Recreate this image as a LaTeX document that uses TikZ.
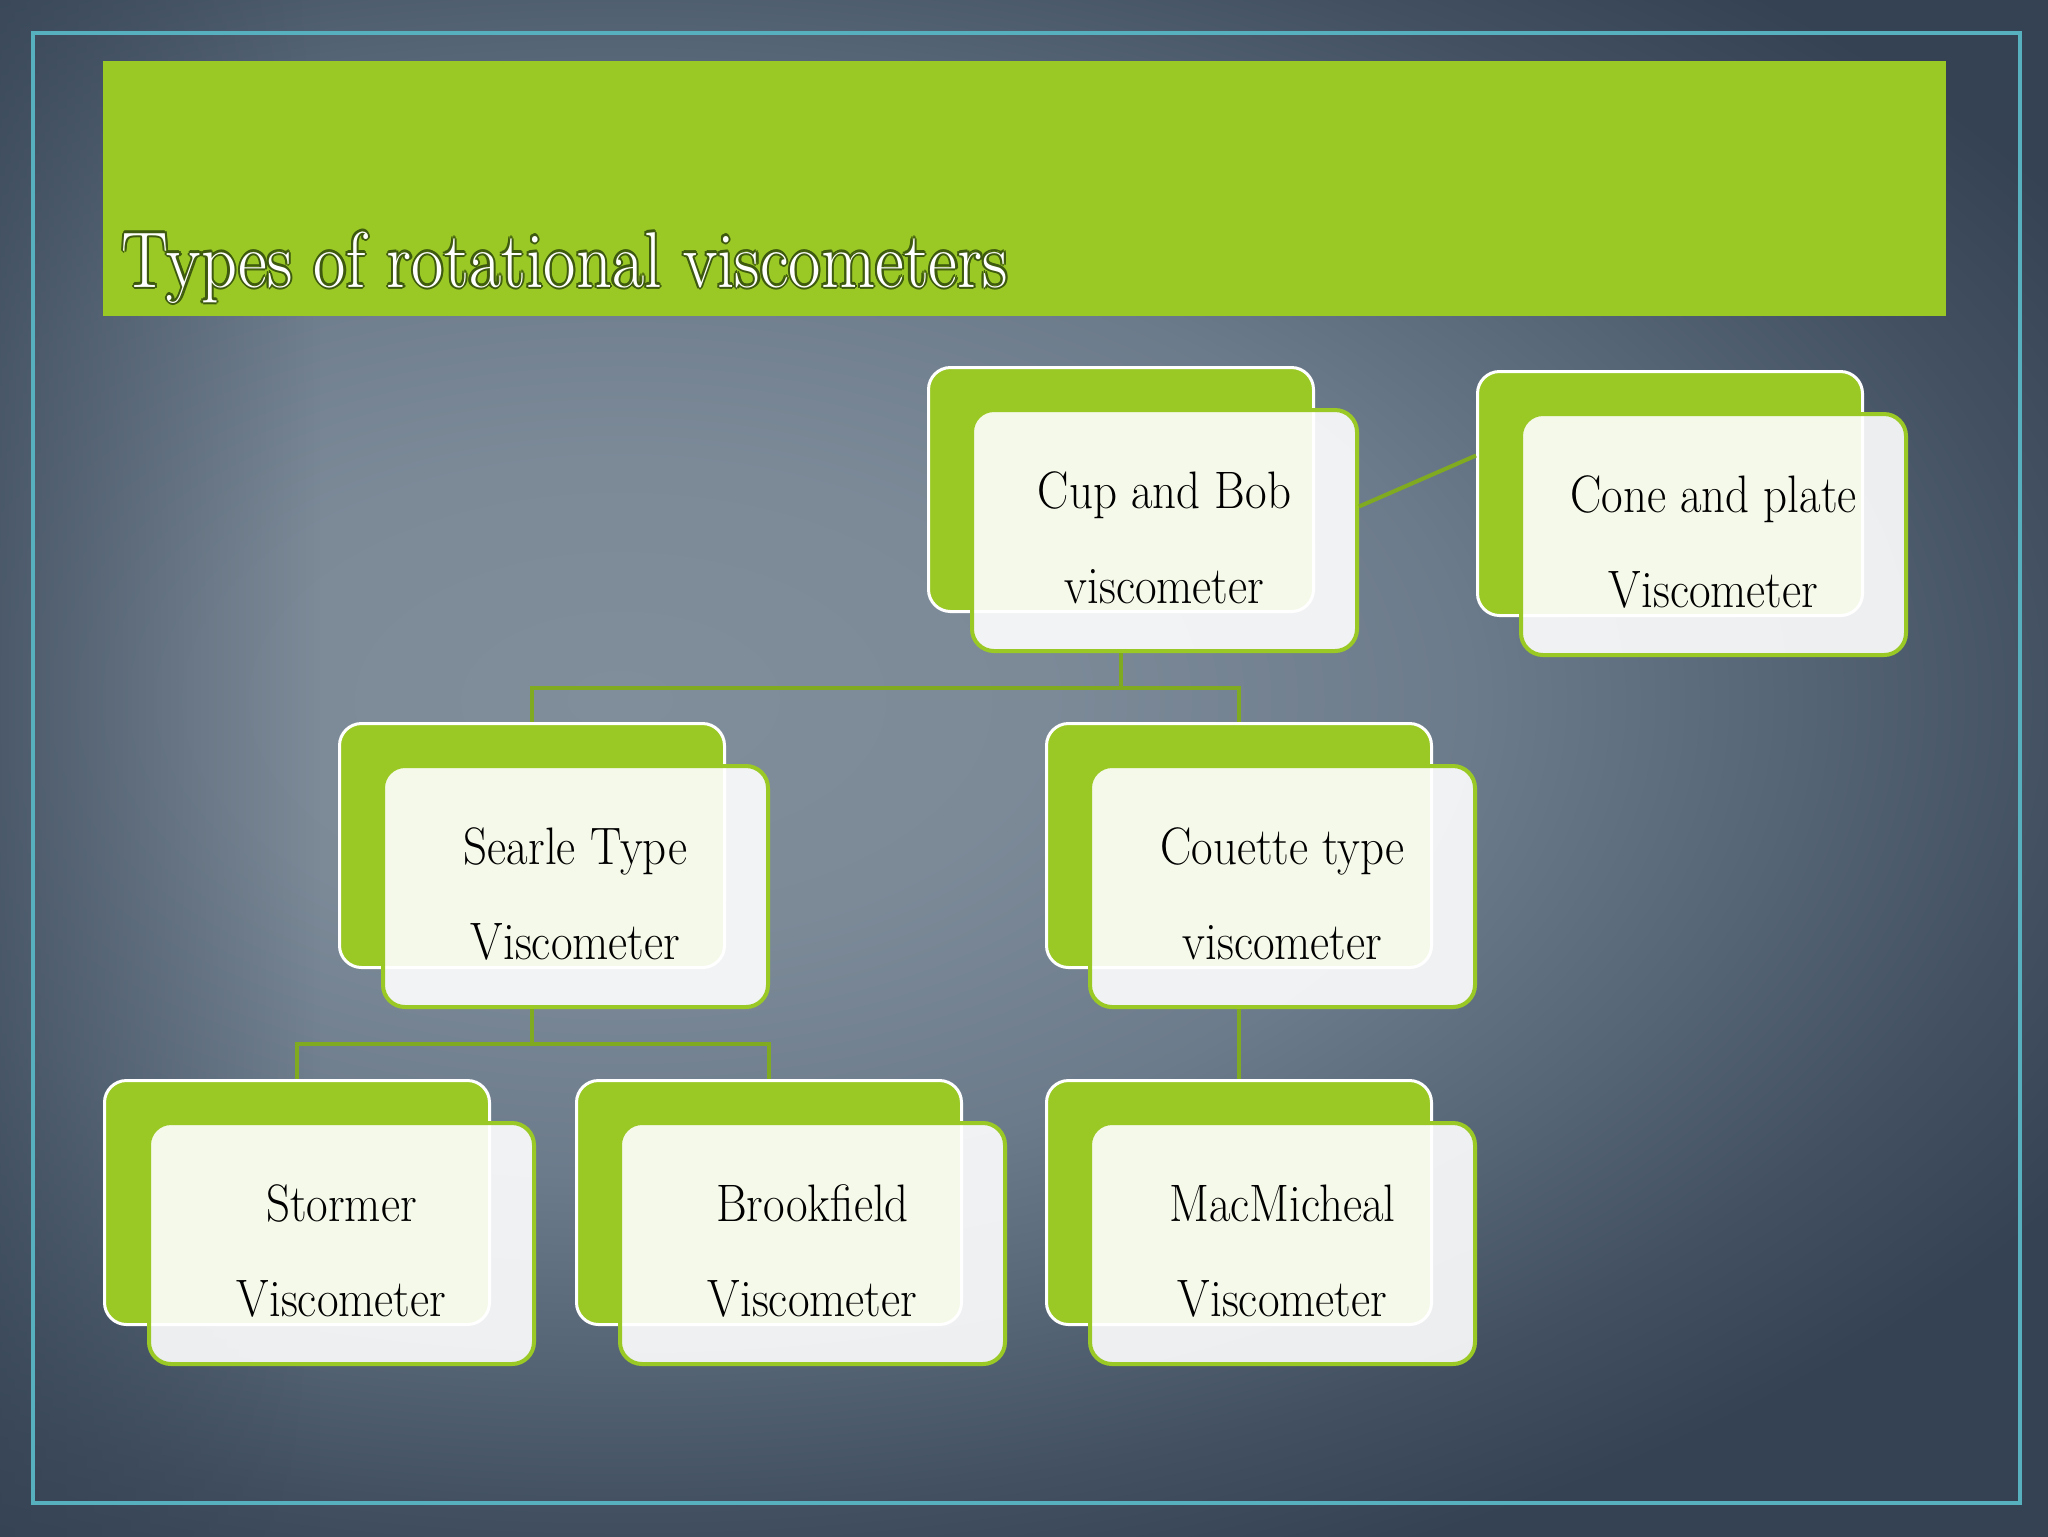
\documentclass[tikz,border=0pt]{standalone}
\usepackage{fontspec}
\newfontfamily\gab{Latin Modern Roman}[FakeStretch=0.89]
\usetikzlibrary{positioning, calc, fadings}

\definecolor{leaf}{RGB}{154,201,37}
\definecolor{leafline}{RGB}{128,170,32}
\definecolor{framecol}{RGB}{86,176,190}
\definecolor{titleedge}{RGB}{62,90,14}
\definecolor{bg0}{RGB}{128,142,156}
\definecolor{bg1}{RGB}{124,138,152}
\definecolor{bg2}{RGB}{108,123,139}
\definecolor{bg3}{RGB}{85,100,117}
\definecolor{bg4}{RGB}{66,80,98}
\definecolor{bgout}{RGB}{52,66,84}

\pgfdeclareradialshading{slide}{\pgfpoint{0bp}{0bp}}{color(0bp)=(bg0); color(6.25bp)=(bg1); color(12.5bp)=(bg2); color(17.5bp)=(bg3); color(21.25bp)=(bg4); color(25bp)=(bgout); color(50bp)=(bgout)}

\begin{document}
\begin{tikzpicture}[x=0.1mm, y=-0.1mm,
  back/.style={rectangle,draw=white,line width=0.3mm,fill=leaf,rounded corners=2.2mm, minimum width=38.5mm,minimum height=24.4mm,anchor=north west},
  front/.style={rectangle,draw=leaf,line width=0.4mm,fill=white,fill opacity=0.9,text opacity=1,rounded corners=2.2mm, minimum width=38.5mm,minimum height=24.1mm,align=center,font=\gab\fontsize{15}{27.2}\selectfont, execute at begin node=\rule{0pt}{14.7mm}},
  link/.style={leafline,line width=0.4mm},
  ttl/.style={font=\gab\fontsize{22.5}{27}\selectfont,anchor=base west,inner sep=0pt}
]
  \useasboundingbox (0,0) rectangle (2048,1536);
  % slide background
  \fill[bgout] (-10,-10) rectangle (2058,1546);
  \begin{scope}
    \clip (-10,-10) rectangle (2058,1546);
    \shade[shading=slide] (620,700) ellipse (1700 and 950);
    \fill[bgout, fill opacity=0.65, path fading=east] (-10,-10) rectangle (320,1546);
  \end{scope}
  \draw[framecol, line width=0.42mm] (33,33) rectangle (2020,1503);
  \fill[leaf] (103,61) rectangle (1946,316);

  % title with outline
  \foreach \dx/\dy [count=\i] in {0.6/0, -0.6/0, 0/0.6, 0/-0.6, 0.45/0.45, -0.45/0.45, 0.45/-0.45, -0.45/-0.45}
    \node[ttl, text=titleedge] (rim\i) at ([shift={(\dx pt,\dy pt)}]121,287) {Types of rotational viscometers};
  \node[ttl, text=white] (title) at (121,287) {Types of rotational viscometers};

  \node[back] (cupB) at (927,366) {};
  \node[front, below right=4.2mm and 4.3mm of cupB.north west] (cup) {Cup and Bob\\viscometer};
  \node[back] (coneB) at (1476,370) {};
  \node[front, below right=4.2mm and 4.3mm of coneB.north west] (cone) {Cone and plate\\Viscometer};
  \node[back] (searleB) at (338,722) {};
  \node[front, below right=4.2mm and 4.3mm of searleB.north west] (searle) {Searle Type\\Viscometer};
  \node[back] (couetteB) at (1045,722) {};
  \node[front, below right=4.2mm and 4.3mm of couetteB.north west] (couette) {Couette type\\viscometer};
  \node[back] (stormerB) at (103,1079) {};
  \node[front, below right=4.2mm and 4.4mm of stormerB.north west] (stormer) {Stormer\\Viscometer};
  \node[back] (brookB) at (575,1079) {};
  \node[front, below right=4.2mm and 4.3mm of brookB.north west] (brook) {Brookfield\\Viscometer};
  \node[back] (macB) at (1045,1079) {};
  \node[front, below right=4.2mm and 4.3mm of macB.north west] (mac) {MacMicheal\\Viscometer};

  % connectors
  \coordinate (j1) at ($(cup.south)!0.5!(searleB.north)$);
  \draw[link] (cupB.south |- cup.south) -- (cupB.south |- j1) -| (searleB.north);
  \draw[link] (cupB.south |- j1) -| (couetteB.north);
  \coordinate (j2) at ($(searle.south)!0.5!(stormerB.north)$);
  \draw[link] (searleB.south |- searle.south) -- (searleB.south |- j2) -| (stormerB.north);
  \draw[link] (searleB.south |- j2) -| (brookB.north);
  \draw[link] (couetteB.south |- couette.south) -- (macB.north);
  \draw[link] ([yshift=2.4mm]cup.east) -- ([yshift=3.8mm]coneB.west);
\end{tikzpicture}
\end{document}
